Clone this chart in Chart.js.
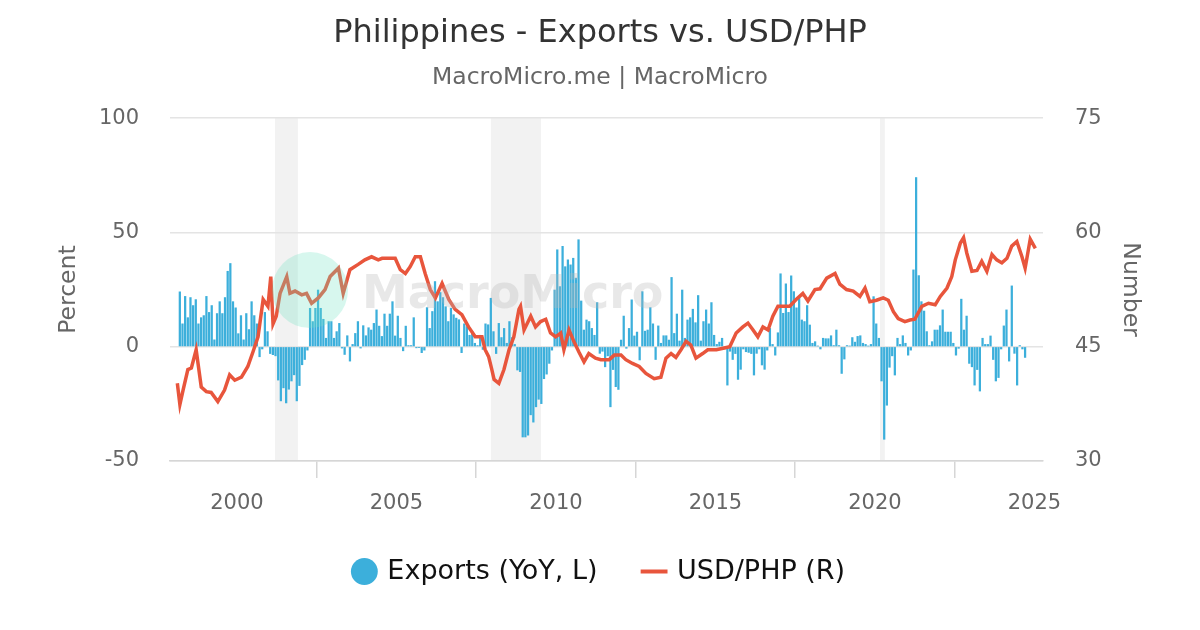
<!DOCTYPE html>
<html>
<head>
<meta charset="utf-8">
<script src="https://cdn.jsdelivr.net/npm/chart.js@4"></script>
<style>
  html, body { margin: 0; padding: 0; background: #fff; }
</style>
</head>
<body>
<canvas id="chart" width="1200" height="630"></canvas>
<script>
// Exports YoY (%), monthly from Jan 1998
const exportsStartYear = 1998;
const exportsYoY = [
  null, null, 24, 10, 22, 12.7, 21.5, 18, 20.6, 10, 12.7, 13.6,          // 1998
  22, 15, 18, 3, 14.5, 19.7, 14.5, 21.5, 33, 36.4, 19.7, 17,             // 1999
  5.7, 13.6, 3, 14.5, 7.5, 19.7, 13.6, 10, -4.4, -1, 15, 6.6,            // 2000
  -3, -3.5, -4, -14.6, -23.7, -18, -24.6, -18.6, -15, -12.3, -23.7, -17, // 2001
  -7.9, -5.6, -1.5, 16.8, 11, 16.8, 24.8, 16.8, 12, 3.7, 11, 11,         // 2002
  3.7, 6.6, 10.2, -0.6, -3.4, 4.8, -6.3, 1, 5.8, 11, -0.6, 9.2,          // 2003
  4.8, 8.3, 7.3, 10.2, 16.1, 9, 4.5, 14.3, 9, 14.3, 19.7, 4.7,           // 2004
  13.4, 3.7, -1.8, 9, 0.5, 0.5, 12.7, -0.5, -0.4, -2.6, -1.5, 17.1,      // 2005
  8, 15.4, 28.5, 19.7, 23.7, 21.5, 17.5, 11, 16.8, 14, 12.5, 11.8,       // 2006
  -2.6, 10, 8.8, 5, 6.6, 1.5, 0.5, 5, -1.2, 10, 9.6, 21.2,               // 2007
  6.6, -3, 10.2, 4, 8, 1.5, 11, 4, 1, -10.2, -10.9, -39.5,               // 2008
  -39.5, -38.7, -29.8, -33, -26.3, -23, -24.9, -14, -12, -7.3, -1.5, 24.8, // 2009
  42.4, 26.3, 43.9, 35, 38, 35.8, 38.7, 30, 46.8, 20, 7.3, 11.7,         // 2010
  11, 8, 5, 19.3, -2.9, -2, -8.8, -4, -26.3, -10, -17.5, -18.7,          // 2011
  2.9, 13.4, -0.7, 8, 20.5, 4.7, 6.4, -5.8, 24.1, 6.8, 7.3, 17.1,        // 2012
  10, -5.6, 9.1, 1.5, 4.8, 4.8, 2.9, 30.3, 5.8, 14.3, 2.5, 24.8,         // 2013
  3.7, 11.7, 12.7, 16.4, 10.5, 22.4, 2.5, 11, 16.1, 10, 19.3, 5,         // 2014
  1, 2, 3.7, -1, -16.8, -2, -5.6, -3, -14.3, -9.9, -1, -2.2,             // 2015
  -2.5, -3, -12.4, -2.9, -1, -8, -9.9, -1.5, 8, 1, -3.7, 6.1,            // 2016
  31.9, 14.6, 27.5, 15, 31, 24.1, 17, 21.9, 11.7, 11, 18, 9.5,           // 2017
  1.5, 2.2, 0.3, -1, 3.7, 3.5, 3.5, 4.8, 0.5, 7.3, 0.5, -11.7,           // 2018
  -5.4, 0.5, 0.3, 4, 2, 4.5, 4.8, 1.5, 1, 0.3, 1, 21.9,                  // 2019
  10, 3.7, -15, -40.5, -25.6, -9, -4, -12.4, 3.7, 1, 4.8, 1.5,           // 2020
  -3.7, -1.5, 33.6, 74, 31.1, 19.7, 15.6, 6.6, 0.5, 2.2, 7.3, 7.3,       // 2021
  9.2, 16.1, 6.4, 6.4, 6.4, 1.5, -3.7, -0.7, 20.8, 7.3, 13.4, -7.3,      // 2022
  -8.8, -16.8, -10, -19.4, 3.7, 1, 1, 4.7, -5.6, -15, -13.5, -1,         // 2023
  9.1, 16.1, -6.3, 26.6, -2.9, -16.8, 0.5, -1, -4.7                      // 2024
];

// USD/PHP (right axis) at decimal-year dates
const usdphpDates = [
  1998.13, 1998.21, 1998.31, 1998.46, 1998.57, 1998.72, 1998.88, 1999.04, 1999.19, 1999.40,
  1999.61, 1999.77, 1999.93, 2000.14, 2000.34, 2000.50, 2000.66, 2000.82, 2000.97, 2001.06,
  2001.13, 2001.23, 2001.35, 2001.56, 2001.66, 2001.82, 2002.03, 2002.18, 2002.34, 2002.55,
  2002.76, 2002.92, 2003.18, 2003.33, 2003.54, 2003.80, 2004.01, 2004.22, 2004.43, 2004.55,
  2004.76, 2004.96, 2005.12, 2005.28, 2005.43, 2005.59, 2005.75, 2005.90, 2006.06, 2006.22,
  2006.43, 2006.64, 2006.84, 2007.05, 2007.26, 2007.47, 2007.68, 2007.78, 2007.89, 2007.99,
  2008.06, 2008.21, 2008.37, 2008.53, 2008.68, 2008.84, 2008.89, 2009.00, 2009.21, 2009.36,
  2009.52, 2009.68, 2009.83, 2009.99, 2010.15, 2010.25, 2010.41, 2010.56, 2010.72, 2010.88,
  2011.03, 2011.24, 2011.41, 2011.67, 2011.83, 2012.04, 2012.19, 2012.40, 2012.61, 2012.82,
  2013.08, 2013.29, 2013.45, 2013.61, 2013.76, 2013.92, 2014.08, 2014.23, 2014.39, 2014.60,
  2014.76, 2015.03, 2015.24, 2015.45, 2015.65, 2015.86, 2016.02, 2016.18, 2016.33, 2016.49,
  2016.65, 2016.80, 2016.96, 2017.12, 2017.33, 2017.53, 2017.74, 2017.90, 2018.12, 2018.28,
  2018.49, 2018.75, 2018.90, 2019.11, 2019.32, 2019.53, 2019.69, 2019.84, 2020.05, 2020.26,
  2020.42, 2020.58, 2020.73, 2020.94, 2021.10, 2021.25, 2021.47, 2021.68, 2021.89, 2022.05,
  2022.26, 2022.41, 2022.52, 2022.68, 2022.78, 2022.88, 2023.04, 2023.20, 2023.35, 2023.51,
  2023.67, 2023.82, 2023.98, 2024.14, 2024.29, 2024.45, 2024.61, 2024.71, 2024.87, 2025.03
];
const usdphpValues = [
  40.2, 37.4, 39.3, 42.0, 42.2, 44.6, 39.7, 39.1, 39.0, 37.8,
  39.3, 41.3, 40.6, 41.0, 42.4, 44.3, 46.3, 51.2, 50.3, 54.2,
  48.0, 49.0, 52.0, 54.2, 52.0, 52.3, 51.8, 52.0, 50.7, 51.4,
  52.5, 54.2, 55.3, 52.0, 55.1, 55.8, 56.4, 56.8, 56.4, 56.6,
  56.6, 56.6, 55.1, 54.6, 55.5, 56.8, 56.8, 54.6, 52.5, 51.4,
  53.3, 51.2, 49.9, 49.2, 47.6, 46.3, 46.3, 44.6, 43.7, 42.0,
  40.7, 40.2, 42.0, 44.6, 46.3, 49.9, 50.3, 47.2, 49.0, 47.6,
  48.3, 48.6, 46.8, 46.3, 46.8, 44.6, 47.2, 45.7, 44.3, 43.0,
  44.1, 43.5, 43.3, 43.3, 43.9, 43.9, 43.3, 42.8, 42.4, 41.5,
  40.8, 41.0, 43.5, 44.1, 43.6, 44.6, 45.7, 45.2, 43.5, 44.1,
  44.6, 44.6, 44.8, 45.0, 46.8, 47.6, 48.1, 47.2, 46.3, 47.6,
  47.2, 49.0, 50.3, 50.3, 50.3, 51.2, 52.0, 51.0, 52.5, 52.6,
  54.0, 54.6, 53.2, 52.5, 52.3, 51.6, 52.7, 50.9, 51.1, 51.4,
  51.1, 49.6, 48.7, 48.3, 48.5, 48.6, 50.3, 50.7, 50.5, 51.6,
  52.7, 54.2, 56.4, 58.6, 59.3, 57.3, 54.9, 55.0, 56.2, 54.9,
  57.1, 56.4, 56.0, 56.6, 58.2, 58.8, 56.8, 55.3, 59.1, 57.9
];

// shaded periods [start, end] in decimal years
const recessions = [[2001.19, 2001.91], [2007.96, 2009.53], [2020.16, 2020.31]];

const xTickYears = [2000, 2005, 2010, 2015, 2020, 2025];
const leftTicks = [-50, 0, 50, 100];
const rightTicks = [30, 45, 60, 75];

const FONT = '"DejaVu Sans", sans-serif';
const BLUE = '#3cafdb';
const RED = '#e8553c';

const exportsPoints = exportsYoY.map((v, i) => ({ x: exportsStartYear + (i + 0.5) / 12, y: v }));
const usdphpPoints = usdphpDates.map((d, i) => ({ x: d, y: usdphpValues[i] }));

const bandsPlugin = {
  id: 'bands',
  beforeDraw(chart) {
    const { ctx, chartArea, scales } = chart;
    ctx.save();
    ctx.fillStyle = '#f2f2f2';
    recessions.forEach(([a, b]) => {
      const x0 = scales.x.getPixelForValue(a);
      const x1 = scales.x.getPixelForValue(b);
      ctx.fillRect(x0, chartArea.top, x1 - x0, chartArea.bottom - chartArea.top);
    });
    ctx.restore();
  }
};

// faint site watermark in the middle of the plot
const watermarkPlugin = {
  id: 'watermark',
  afterDatasetsDraw(chart) {
    const { ctx, chartArea } = chart;
    const cx = chartArea.left + 140, cy = chartArea.top + 172;
    ctx.save();
    ctx.fillStyle = 'rgba(110, 225, 195, 0.28)';
    ctx.beginPath();
    ctx.arc(cx, cy, 38, 0, Math.PI * 2);
    ctx.fill();
    ctx.font = 'bold 46px ' + FONT;
    ctx.fillStyle = 'rgba(185, 185, 185, 0.32)';
    ctx.textBaseline = 'alphabetic';
    ctx.fillText('MacroMicro', cx + 52, cy + 18);
    ctx.restore();
  }
};

new Chart(document.getElementById('chart'), {
  data: {
    datasets: [
      {
        type: 'bar',
        label: 'Exports (YoY, L)',
        data: exportsPoints,
        yAxisID: 'y',
        backgroundColor: BLUE,
        borderColor: BLUE,
        borderWidth: 0,
        barThickness: 1.6,
        pointStyle: 'circle',
        order: 1
      },
      {
        type: 'line',
        label: 'USD/PHP (R)',
        data: usdphpPoints,
        yAxisID: 'y1',
        borderColor: RED,
        backgroundColor: RED,
        borderWidth: 3.5,
        pointRadius: 0,
        pointStyle: 'line',
        tension: 0,
        order: 0
      }
    ]
  },
  options: {
    responsive: false,
    animation: false,
    layout: { padding: { left: 0, right: 0, top: 0, bottom: 35 } },
    plugins: {
      tooltip: { enabled: false },
      title: {
        display: true,
        text: 'Philippines - Exports vs. USD/PHP',
        color: '#333',
        font: { family: FONT, size: 32, weight: 'normal' },
        padding: { top: 14, bottom: 11.5 }
      },
      subtitle: {
        display: true,
        text: 'MacroMicro.me | MacroMicro',
        color: '#666',
        font: { family: FONT, size: 23.5, weight: 'normal' },
        padding: { top: 0, bottom: 26 }
      },
      legend: {
        position: 'bottom',
        labels: {
          usePointStyle: true,
          boxWidth: 19,
          boxHeight: 19,
          padding: 47,
          color: '#111',
          font: { family: FONT, size: 27 },
          sort: (a, b) => a.datasetIndex - b.datasetIndex,
          generateLabels(chart) {
            const items = Chart.defaults.plugins.legend.labels.generateLabels(chart);
            items.forEach(it => { if (it.datasetIndex === 1) it.lineWidth = 4; });
            return items;
          }
        }
      }
    },
    scales: {
      x: {
        type: 'linear',
        position: 'bottom',
        min: 1997.9,
        max: 2025.27,
        offset: false,
        afterBuildTicks: scale => { scale.ticks = xTickYears.map(v => ({ value: v })); },
        afterFit: scale => { scale.height = 50; },
        ticks: {
          color: '#666',
          padding: 13,
          maxRotation: 0,
          font: { family: FONT, size: 21 },
          callback: v => String(v)
        },
        grid: { drawOnChartArea: false, drawTicks: true, tickLength: 17, color: '#d6d6d6', lineWidth: 1.5 },
        border: { display: true, color: '#d6d6d6', width: 1.5 }
      },
      y: {
        position: 'left',
        min: -50,
        max: 100,
        afterBuildTicks: scale => { scale.ticks = leftTicks.map(v => ({ value: v })); },
        afterFit: scale => { scale.width = 170; },
        ticks: { color: '#666', padding: 31, font: { family: FONT, size: 21 } },
        grid: { color: '#e4e4e4', lineWidth: 1.5, drawTicks: false },
        border: { display: false },
        title: {
          display: true,
          text: 'Percent',
          color: '#666',
          font: { family: FONT, size: 23.5 },
          padding: { top: 55, bottom: 0 }
        }
      },
      y1: {
        position: 'right',
        min: 30,
        max: 75,
        afterBuildTicks: scale => { scale.ticks = rightTicks.map(v => ({ value: v })); },
        afterFit: scale => { scale.width = 157; },
        ticks: { color: '#666', padding: 32, font: { family: FONT, size: 21 } },
        grid: { drawOnChartArea: false, drawTicks: false },
        border: { display: false },
        title: {
          display: true,
          text: 'Number',
          color: '#666',
          font: { family: FONT, size: 23.5 },
          padding: { top: 56, bottom: 0 }
        }
      }
    }
  },
  plugins: [bandsPlugin, watermarkPlugin]
});
</script>
</body>
</html>
